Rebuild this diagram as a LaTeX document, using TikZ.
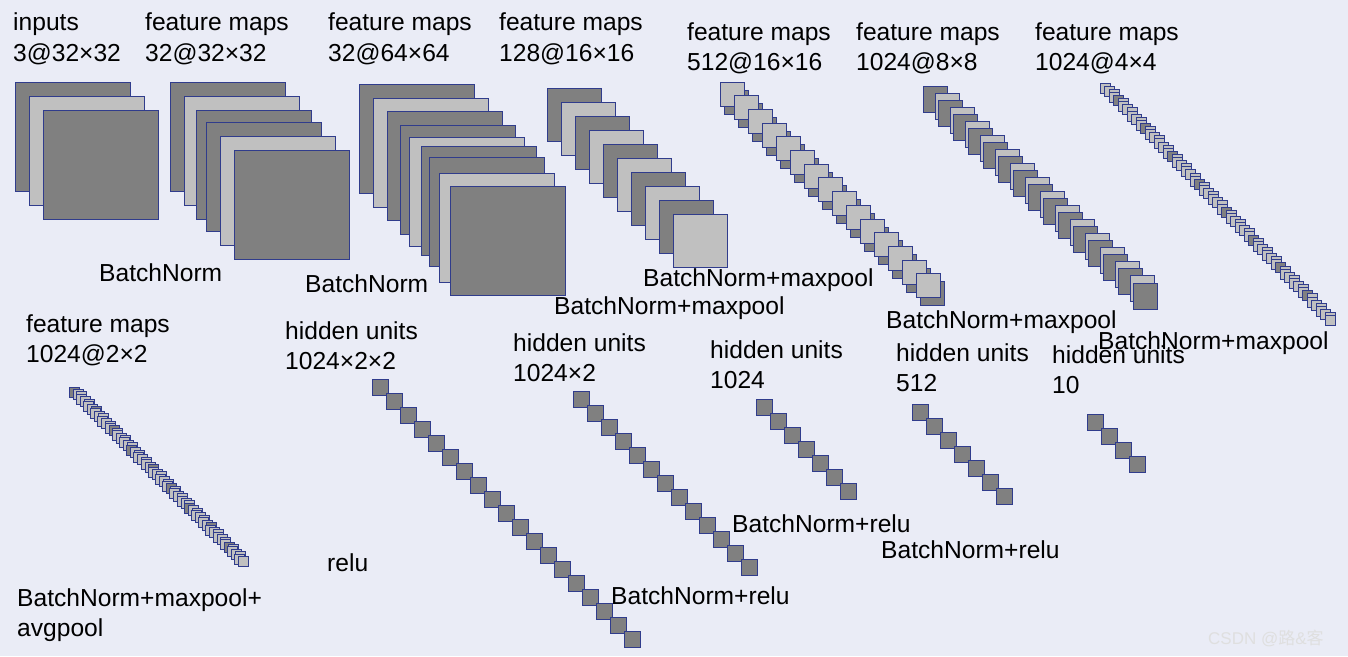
\documentclass[tikz,border=0pt]{standalone}
\usepackage{fontspec}
\setmainfont{Liberation Sans}
\newfontfamily\cjkf{Noto Sans CJK SC}
\definecolor{bg}{RGB}{234,236,246}
\definecolor{edge}{RGB}{48,60,140}
\definecolor{dk}{RGB}{128,128,128}
\definecolor{lt}{RGB}{192,192,192}
\begin{document}
\begin{tikzpicture}[x=1pt,y=-1pt,
  lab/.style={anchor=west,inner sep=0pt,font=\fontsize{24.6}{28}\selectfont,text height=17pt,text depth=5pt,yshift=-2.5pt},
  fm/.style={draw=edge,line width=0.9pt}]
\fill[bg] (0,0) rectangle (1348,656);
\useasboundingbox (0,0) rectangle (1348,656);
% layer 1
\foreach \x/\y/\c in {15/82/dk,29/96/lt,43/110/dk}
  \filldraw[fm,fill=\c] (\x,\y) rectangle ++(115,109);
% layer 2
\foreach \x/\y/\c in {170/82/dk,184/96/lt,196/110/dk,206/122/dk,220/136/lt,234/150/dk}
  \filldraw[fm,fill=\c] (\x,\y) rectangle ++(115,109);
% layer 3
\foreach \x/\y/\c in {359/84/dk,373/98/lt,387/111/dk,400/125/dk,409/137/lt,421/146/dk,429/157/dk,439/173/lt,450/186/dk}
  \filldraw[fm,fill=\c] (\x,\y) rectangle ++(115,109);
% layer 4
\foreach \i/\c in {0/dk,1/lt,2/dk,3/lt,4/dk,5/lt,6/dk,7/lt,8/dk,9/lt}
  \filldraw[fm,fill=\c] (547+14*\i,88+14.1*\i) rectangle ++(54,53);
% layer 5
\foreach \i in {0,...,14}{
  \filldraw[fm,fill=dk] (724+14.05*\i,90+13.7*\i) rectangle ++(24,24);
  \filldraw[fm,fill=lt] (720+14.05*\i,82+13.7*\i) rectangle ++(24,24);}
% layer 6
\foreach \i in {0,...,14}{
  \filldraw[fm,fill=dk] (923+15*\i,86+14.07*\i) rectangle ++(24,26);
  \ifnum\i<14 \filldraw[fm,fill=lt] (935+15*\i,93+14.07*\i) rectangle ++(24,26);\fi}
% layer 7 (dense)
\foreach \i in {0,...,75}{
  \pgfmathsetmacro{\jx}{mod(\i,3)*1.5}
  \pgfmathsetmacro{\c}{ifthenelse(mod(\i,9)==4,"dk","lt")}
  \filldraw[fm,line width=0.7pt,fill=\c] (1100+3.0*\i+\jx,83+3.1*\i) rectangle ++(10,10);}
% row 2 dense
\foreach \i in {0,...,70}{
  \pgfmathsetmacro{\jx}{mod(\i,3)*1.5}
  \pgfmathsetmacro{\c}{ifthenelse(mod(\i,8)==0,"dk","lt")}
  \filldraw[fm,line width=0.7pt,fill=\c] (69+2.4*\i+\jx,387+2.42*\i) rectangle ++(10,10);}
% hidden units
\foreach \n/\x/\y in {18/372/379,12/573/391,6/756/399,6/912/404,3/1087/414}
  \foreach \i in {0,...,\n}
    \filldraw[fm,fill=dk] (\x+14*\i,\y+14*\i) rectangle ++(16,16);
% labels
\node[lab] (t1a) at (13,22) {inputs};
\node[lab] (t1b) at (13,53) {3@32×32};
\node[lab] (t2a) at (145,22) {feature maps};
\node[lab] (t2b) at (145,53) {32@32×32};
\node[lab] (t3a) at (328,22) {feature maps};
\node[lab] (t3b) at (328,53) {32@64×64};
\node[lab] (t4a) at (499,22) {feature maps};
\node[lab] (t4b) at (499,53) {128@16×16};
\node[lab] (t5a) at (687,32) {feature maps};
\node[lab] (t5b) at (687,62) {512@16×16};
\node[lab] (t6a) at (856,32) {feature maps};
\node[lab] (t6b) at (856,62) {1024@8×8};
\node[lab] (t7a) at (1035,32) {feature maps};
\node[lab] (t7b) at (1035,62) {1024@4×4};
\node[lab] (b1) at (99,273) {BatchNorm};
\node[lab] (b2) at (305,284) {BatchNorm};
\node[lab] (b3) at (554,306) {BatchNorm+maxpool};
\node[lab] (b4) at (643,278) {BatchNorm+maxpool};
\node[lab] (b5) at (886,320) {BatchNorm+maxpool};
\node[lab] (b6) at (1098,341) {BatchNorm+maxpool};
\node[lab] (u1a) at (26,324) {feature maps};
\node[lab] (u1b) at (26,354) {1024@2×2};
\node[lab] (u2a) at (285,331) {hidden units};
\node[lab] (u2b) at (285,361) {1024×2×2};
\node[lab] (u3a) at (513,343) {hidden units};
\node[lab] (u3b) at (513,373) {1024×2};
\node[lab] (u4a) at (710,350) {hidden units};
\node[lab] (u4b) at (710,380) {1024};
\node[lab] (u5a) at (896,353) {hidden units};
\node[lab] (u5b) at (896,383) {512};
\node[lab] (u6a) at (1052,355) {hidden units};
\node[lab] (u6b) at (1052,385) {10};
\node[lab] (d1a) at (17,598) {BatchNorm+maxpool+};
\node[lab] (d1b) at (17,628) {avgpool};
\node[lab] (d2) at (327,563) {relu};
\node[lab] (d3) at (611,596) {BatchNorm+relu};
\node[lab] (d4) at (732,524) {BatchNorm+relu};
\node[lab] (d5) at (881,550) {BatchNorm+relu};
\node[anchor=west,inner sep=0pt,text=white!75!gray,font=\fontsize{17}{20}\selectfont] (wm) at (1208,638) {CSDN @{\cjkf 路}\&{\cjkf 客}};
\end{tikzpicture}
\end{document}
